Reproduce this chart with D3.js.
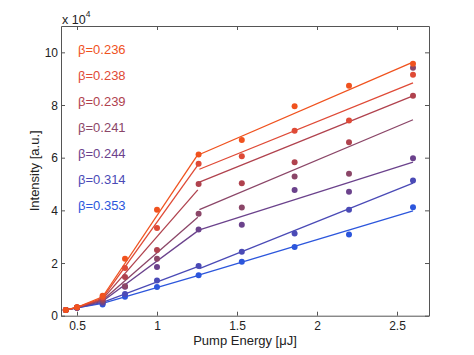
<!DOCTYPE html>
<html>
<head>
<meta charset="utf-8">
<script src="https://cdn.jsdelivr.net/npm/d3@7"></script>
<style>
  html, body { margin: 0; padding: 0; background: #fff; }
  svg { display: block; font-family: "Liberation Sans", Arial, Helvetica, sans-serif; }
</style>
</head>
<body>
<svg id="chart" width="474" height="355"></svg>
<script>
// ---- data ----
const pumpEnergy = [0.43, 0.5, 0.66, 0.8, 1.0, 1.26, 1.53, 1.86, 2.2, 2.6];
const betaLabels = ["β=0.236", "β=0.238", "β=0.239", "β=0.241", "β=0.244", "β=0.314", "β=0.353"];
const colors = ["#f0521e", "#df4a36", "#b0424e", "#8b4668", "#6b428c", "#4a4ab6", "#2c56dc"];

// measured intensities (x 10^4), one array per beta
const s236 = [0.22, 0.32, 0.76, 2.16, 4.02, 6.12, 6.67, 7.95, 8.73, 9.57];
const s238 = [0.22, 0.32, 0.70, 1.81, 3.33, 5.77, 6.05, 7.02, 7.41, 9.15];
const s239 = [0.22, 0.31, 0.64, 1.47, 2.49, 5.00, 5.03, 5.83, 6.59, 8.35];
const s241 = [0.22, 0.31, 0.58, 1.12, 2.16, 3.87, 4.11, 5.29, 5.39, 9.41];
const s244 = [0.22, 0.30, 0.52, 1.10, 1.85, 3.27, 3.45, 4.77, 4.71, 5.98];
const s314 = [0.22, 0.30, 0.47, 0.82, 1.34, 1.89, 2.43, 3.12, 4.02, 5.13];
const s353 = [0.22, 0.30, 0.43, 0.72, 1.09, 1.54, 2.05, 2.61, 3.08, 4.12];
const measured = [s236, s238, s239, s241, s244, s314, s353];

// fitted lines: threshold at 0.66, knee at 1.26, end at 2.6
const fitX = [0.66, 1.26, 2.6];
const fitStart     = [0.72, 0.67, 0.63, 0.59, 0.55, 0.51, 0.47];
const fitKneeLow   = [6.12, 5.72, 4.78, 3.74, 3.22, 1.86, 1.52];
const fitKneeHigh  = [6.12, 5.56, 5.07, 4.03, 3.26, 1.79, 1.55];
const fitEnd       = [9.63, 8.84, 8.35, 7.44, 5.83, 5.03, 3.98];

const xTicks = [0.5, 1, 1.5, 2, 2.5];
const xTickLabels = ["0.5", "1", "1.5", "2", "2.5"];
const yTicks = [0, 2, 4, 6, 8, 10];
const yTickLabels = ["0", "2", "4", "6", "8", "10"];

// ---- layout ----
const L = 61, R = 429, T = 26, B = 315.7;
const svg = d3.select("#chart");
const x = d3.scaleLinear().domain([0.4, 2.7]).range([L, R]);
const y = d3.scaleLinear().domain([0, 11]).range([B, T]);
const axisColor = "#555";
const textColor = "#222";

// axes
const gx = svg.append("g").attr("transform", `translate(0,${B})`)
  .call(d3.axisBottom(x).tickValues(xTicks).tickFormat((d, i) => xTickLabels[i]).tickSizeInner(-4).tickSizeOuter(0).tickPadding(6));
const gxt = svg.append("g").attr("transform", `translate(0,${T})`)
  .call(d3.axisTop(x).tickValues(xTicks).tickFormat("").tickSizeInner(-4).tickSizeOuter(0));
const gy = svg.append("g").attr("transform", `translate(${L},0)`)
  .call(d3.axisLeft(y).tickValues(yTicks).tickFormat((d, i) => yTickLabels[i]).tickSizeInner(-4).tickSizeOuter(0).tickPadding(3));
const gyr = svg.append("g").attr("transform", `translate(${R},0)`)
  .call(d3.axisRight(y).tickValues(yTicks).tickFormat("").tickSizeInner(-4).tickSizeOuter(0));
[gx, gxt, gy, gyr].forEach(g => {
  g.selectAll("path, line").attr("stroke", axisColor);
  g.selectAll("text").attr("fill", textColor).style("font-size", "12px")
   .style("font-family", '"Liberation Sans", Arial, Helvetica, sans-serif');
});
gy.selectAll("text").attr("dy", "0.35em");

// plot order: bottom series first so orange is on top
const order = d3.range(measured.length).reverse();
const line = d3.line().x(d => x(d[0])).y(d => y(d[1]));

order.forEach(i => {
  const c = colors[i];
  const v = measured[i];
  // low-energy connection
  const low = [[pumpEnergy[0], v[0]], [pumpEnergy[1], v[1]], [fitX[0], fitStart[i]]];
  svg.append("path").attr("d", line(low)).attr("fill", "none").attr("stroke", c).attr("stroke-width", 1.3);
  // fit segment above threshold
  svg.append("path").attr("d", line([[fitX[0], fitStart[i]], [fitX[1] - 0.005, fitKneeLow[i]]]))
    .attr("fill", "none").attr("stroke", c).attr("stroke-width", 1.3);
  // fit segment after knee
  svg.append("path").attr("d", line([[fitX[1] + 0.005, fitKneeHigh[i]], [fitX[2], fitEnd[i]]]))
    .attr("fill", "none").attr("stroke", c).attr("stroke-width", 1.3);
});
order.forEach(i => {
  svg.append("g").selectAll("circle").data(measured[i]).join("circle")
    .attr("cx", (d, j) => x(pumpEnergy[j]))
    .attr("cy", d => y(d))
    .attr("r", 3)
    .attr("fill", colors[i]);
});

// legend labels
betaLabels.forEach((t, i) => {
  svg.append("text").attr("x", 78).attr("y", 53.5 + i * 26)
    .attr("fill", colors[i]).style("font-size", "13px").text(t);
});

// exponent label
const ex = svg.append("text").attr("x", 62).attr("y", 24).attr("fill", textColor).style("font-size", "12.5px");
ex.append("tspan").text("x 10");
ex.append("tspan").attr("dy", -7).style("font-size", "8.5px").text("4");

// axis titles
svg.append("text").attr("x", (L + R) / 2).attr("y", 345).attr("text-anchor", "middle")
  .attr("fill", textColor).style("font-size", "13px").text("Pump Energy [μJ]");
svg.append("text").attr("transform", `translate(39,${(T + B) / 2}) rotate(-90)`)
  .attr("text-anchor", "middle").attr("fill", textColor).style("font-size", "13px").text("Intensity [a.u.]");
</script>
</body>
</html>
